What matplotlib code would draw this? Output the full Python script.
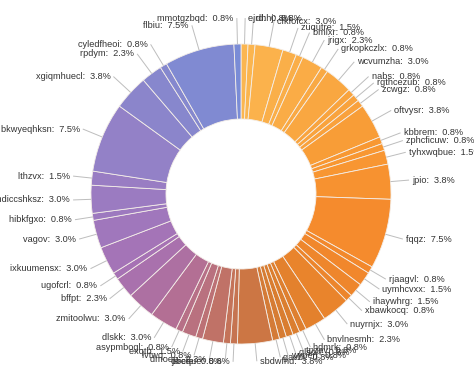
import numpy as np
import matplotlib
matplotlib.use("Agg")
import matplotlib.pyplot as plt
from matplotlib.colors import LinearSegmentedColormap

# slices clockwise from 12 o'clock (counts; shares are count / total)
names = ["ejrd", "dhhj", "cfkfofcx", "zuqutre", "bmlxr", "jrigx", "grkopkczlx",
         "wcvumzha", "nabs", "rgthcezub", "zcwgz", "oftvysr", "kbbrem", "zphcficuw",
         "tyhxwqbue", "jpio", "fqqz", "rjaagvl", "uymhcvxx", "ihaywhrg", "xbawkocq",
         "nuyrnjx", "bnvlnesmh", "hdmrk", "tpzav", "qlsoh", "wyuen", "gaxbi",
         "sbdwfhd", "jsreque", "obcfe", "dmoep", "lvtwq", "exqtb", "asypmbogl",
         "dlskk", "zmitoolwu", "bffpt", "ugofcrl", "ixkuumensx", "vagov", "hibkfgxo",
         "mdiccshksz", "lthzvx", "bkwyeqhksn", "xgiqmhuecl", "rpdym", "cyledfheoi",
         "flbiu", "mmotgzbqd"]
counts = [1, 1, 4, 2, 1, 3, 1,
          4, 1, 1, 1, 5, 1, 1,
          2, 5, 10, 1, 2, 2, 1,
          4, 3, 1, 1, 1, 1, 1,
          5, 1, 1, 3, 1, 2, 1,
          4, 4, 3, 1, 4, 4, 1,
          4, 2, 10, 5, 3, 1,
          10, 1]

W, H = 474, 384
fig = plt.figure(figsize=(W / 100, H / 100), dpi=100)
ax = fig.add_axes([0, 0, 1, 1])

cx, cy = 241, H - 194
R, R_IN = 150, 75
total = sum(counts)
edges = np.cumsum([0] + counts) / total
mids = (edges[:-1] + edges[1:]) / 2

stops = [(0.0, "#fbb650"), (0.12, "#f9a640"), (0.2, "#f89732"), (0.27, "#f68d2e"),
         (0.33, "#f3882c"), (0.4, "#e8832c"), (0.45, "#d87d30"), (0.5, "#c8744c"),
         (0.55, "#bb717a"), (0.6, "#b06f9c"), (0.66, "#a672b4"), (0.72, "#9e78bf"),
         (0.8, "#9580c6"), (0.9, "#8787cd"), (1.0, "#7a8cd6")]
cmap = LinearSegmentedColormap.from_list("grad", stops)
colors = [cmap(m) for m in mids]

ax.pie(counts, radius=R, center=(cx, cy), startangle=90, counterclock=False,
       colors=colors, wedgeprops=dict(width=R - R_IN, edgecolor="#f4eee8", linewidth=0.6))

for name, c, m in zip(names, counts, mids):
    th = 2 * np.pi * m
    s, co = np.sin(th), np.cos(th)
    x0, y0 = cx + R * s, cy + R * co
    rl = 168 + 8 * max(0.0, co)
    x1, y1 = cx + rl * s, cy + rl * co
    right = s >= 0
    ax.plot([x0, x1], [y0, y1], color="#bdbdbd", lw=0.7, solid_capstyle="butt")
    pct = 100 * c / total
    ax.text(x1 + (3 if right else -3), y1, f"{name}:  {pct:.1f}%",
            ha="left" if right else "right", va="center", fontsize=6.6,
            family="Liberation Sans", color="#333333")

ax.set_xlim(0, W)
ax.set_ylim(0, H)
ax.set_aspect("equal")
ax.axis("off")
fig.savefig("out.png", dpi=100)
